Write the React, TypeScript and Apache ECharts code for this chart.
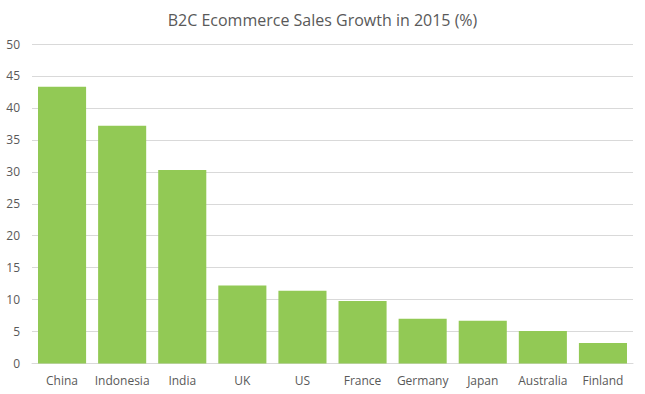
import React, { useEffect, useRef } from "react";
import * as echarts from "echarts";

const categories = ["China", "Indonesia", "India", "UK", "US", "France", "Germany", "Japan", "Australia", "Finland"];
const growth = [43.3, 37.2, 30.3, 12.2, 11.4, 9.8, 7.0, 6.7, 5.1, 3.2];
const titleText = "B2C Ecommerce Sales Growth in 2015 (%)";

export default function App() {
  const ref = useRef<HTMLDivElement>(null);
  useEffect(() => {
    if (!ref.current) return;
    const chart = echarts.init(ref.current, null, { renderer: "svg" });
    chart.setOption({
      animation: false,
      backgroundColor: "#ffffff",
      textStyle: { fontFamily: "Open Sans" },
      title: {
        text: titleText,
        left: "center",
        top: 7,
        textStyle: { fontFamily: "Open Sans", fontSize: 16, fontWeight: "normal", color: "#595959" },
      },
      grid: { left: 32, right: 12, top: 44, bottom: 30.5, containLabel: false, outerBoundsMode: "none" },
      xAxis: {
        type: "category",
        data: categories,
        axisLine: { lineStyle: { color: "#d9d9d9" } },
        axisTick: { show: false },
        axisLabel: { color: "#595959", fontSize: 12, margin: 11, interval: 0 },
      },
      yAxis: {
        type: "value",
        min: 0,
        max: 50,
        interval: 5,
        axisLine: { show: false },
        axisTick: { show: false },
        axisLabel: { color: "#595959", fontSize: 12, margin: 12 },
        splitLine: { lineStyle: { color: "#d9d9d9" } },
      },
      series: [
        {
          type: "bar",
          data: growth,
          barCategoryGap: "20%",
          itemStyle: { color: "#92c955" },
        },
      ],
    });
    return () => chart.dispose();
  }, []);
  return <div ref={ref} style={{ width: 645, height: 394, position: "absolute", left: 0, top: 0 }} />;
}
